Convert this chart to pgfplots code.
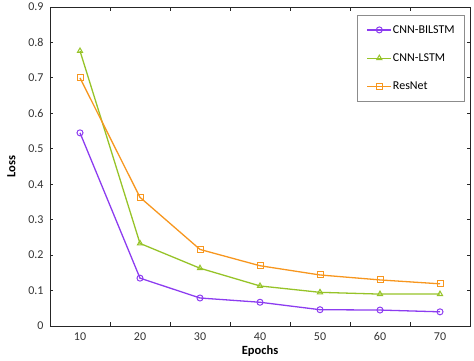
\documentclass[border=0pt]{standalone}
\usepackage{pgfplots}
\pgfplotsset{compat=1.18}
\usepackage{fontspec}
\setmainfont{Carlito}
\definecolor{cpur}{RGB}{140,60,240}
\definecolor{cgrn}{RGB}{150,195,40}
\definecolor{corg}{RGB}{247,150,30}
\begin{document}
\begin{tikzpicture}
\useasboundingbox (-50bp,-35bp) rectangle (424bp,326bp);
\begin{axis}[
  at={(0,0)}, anchor=south west,
  scale only axis, width=420bp, height=319bp,
  xmin=0.5, xmax=7.5, ymin=0, ymax=0.9,
  xtick={1,...,7}, xticklabels={10,20,30,40,50,60,70},
  minor xtick={1.5,2.5,3.5,4.5,5.5,6.5},
  major x tick style={draw=none},
  ytick={0,0.1,...,0.9},
  yticklabel style={/pgf/number format/fixed,/pgf/number format/precision=1},
  /pgf/number format/assume math mode=true,
  tick align=inside, major tick length=3bp, minor tick length=4bp,
  axis line style={black!85, line width=0.9pt},
  tick style={black!85, line width=0.8pt},
  ticklabel style={font=\fontsize{12bp}{14bp}\selectfont, text=black!80},
  xticklabel style={yshift=-3bp},
  yticklabel style={xshift=-3bp},
  xlabel={\textbf{Epochs}}, ylabel={\textbf{Loss}},
  label style={font=\fontsize{12.5bp}{14bp}\selectfont},
  xlabel style={at={(axis description cs:0.5,-0.078)}, anchor=center},
  ylabel style={at={(axis description cs:-0.092,0.5)}, anchor=center},
  legend style={at={(rel axis cs:0.988,0.975)}, anchor=north east,
    draw=black!45, line width=0.6pt, font=\fontsize{12bp}{14bp}\selectfont,
    row sep=15bp, inner xsep=9bp, inner ysep=8bp,
    nodes={inner xsep=1bp}},
  legend cell align=left,
  legend image code/.code={\draw[#1] (0bp,0bp) -- (24bp,0bp); \draw[#1, mark repeat=1] plot coordinates {(12bp,0bp)};},
  every axis plot/.append style={line width=1.3pt, mark size=3bp, mark options={solid, fill=white, line width=1pt}},
]
\addplot[cpur, mark=o] coordinates {(1,0.545)(2,0.135)(3,0.079)(4,0.067)(5,0.046)(6,0.045)(7,0.040)};
\addlegendentry{CNN-BILSTM}
\addplot[cgrn, mark=triangle] coordinates {(1,0.776)(2,0.233)(3,0.163)(4,0.113)(5,0.095)(6,0.090)(7,0.090)};
\addlegendentry{CNN-LSTM}
\addplot[corg, mark=square] coordinates {(1,0.700)(2,0.363)(3,0.216)(4,0.170)(5,0.144)(6,0.130)(7,0.119)};
\addlegendentry{ResNet}
\end{axis}
\end{tikzpicture}
\end{document}
